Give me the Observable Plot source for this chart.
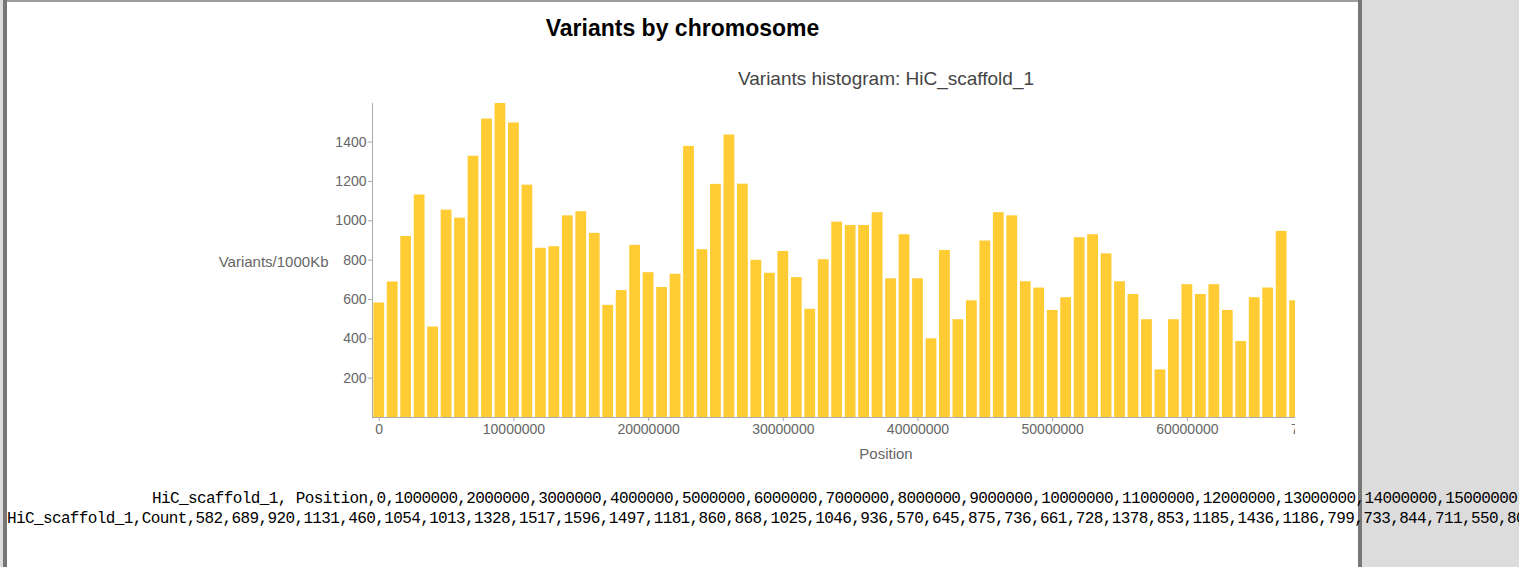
<!DOCTYPE html>
<html>
<head>
<meta charset="utf-8">
<script src="https://cdn.jsdelivr.net/npm/d3@7"></script>
<script src="https://cdn.jsdelivr.net/npm/@observablehq/plot@0.6"></script>
<style>
  html, body { margin: 0; padding: 0; width: 1519px; height: 567px; overflow: hidden; background: #dcdcdc; }
  #page { position: absolute; left: 3px; top: 0; width: 1351px; height: 600px; background: white;
          border-left: 4px solid #777; border-right: 4px solid #777; }
  #topline { position: absolute; left: 0; top: 0; width: 1351px; height: 2px; background: #9c9c9c; }
  #title { position: absolute; left: 0; top: 13px; width: 1351px; text-align: center;
           font: bold 23px "Liberation Sans", Arial, sans-serif; line-height: 30px; color: #000; }
  #chartwrap { position: absolute; left: 0; top: 60px; width: 1288px; height: 410px; overflow: hidden; }
  .dataline { position: absolute; white-space: pre; font-family: "Liberation Mono", monospace;
              font-size: 16px; letter-spacing: -0.62px; line-height: 20px; color: #000; }
</style>
</head>
<body>
<div id="page">
  <div id="topline"></div>
  <div id="title"></div>
  <div id="chartwrap"></div>
  <div id="line1" class="dataline" style="left:145px; top:489px;"></div>
  <div id="line2" class="dataline" style="left:0px; top:509px;"></div>
</div>
<script>
const pageTitle = "Variants by chromosome";
const chartTitle = "Variants histogram: HiC_scaffold_1";
const yLabel = "Variants/1000Kb";
const xLabel = "Position";
const scaffold = "HiC_scaffold_1";

const positions = [0, 1000000, 2000000, 3000000, 4000000, 5000000, 6000000, 7000000, 8000000, 9000000,
  10000000, 11000000, 12000000, 13000000, 14000000, 15000000, 16000000, 17000000, 18000000, 19000000,
  20000000, 21000000, 22000000, 23000000, 24000000, 25000000, 26000000, 27000000, 28000000, 29000000,
  30000000, 31000000, 32000000, 33000000, 34000000, 35000000, 36000000, 37000000, 38000000, 39000000,
  40000000, 41000000, 42000000, 43000000, 44000000, 45000000, 46000000, 47000000, 48000000, 49000000,
  50000000, 51000000, 52000000, 53000000, 54000000, 55000000, 56000000, 57000000, 58000000, 59000000,
  60000000, 61000000, 62000000, 63000000, 64000000, 65000000, 66000000, 67000000, 68000000];

const counts = [582, 689, 920, 1131, 460, 1054, 1013, 1328, 1517, 1596,
  1497, 1181, 860, 868, 1025, 1046, 936, 570, 645, 875,
  736, 661, 728, 1378, 853, 1185, 1436, 1186, 799, 733,
  844, 711, 550, 802, 993, 976, 976, 1041, 705, 929,
  705, 400, 849, 497, 593, 897, 1041, 1025, 690, 658,
  544, 609, 914, 929, 832, 690, 625, 497, 242, 497,
  675, 625, 675, 544, 386, 609, 658, 946, 593];

const yTicks = [200, 400, 600, 800, 1000, 1200, 1400];
const xTicks = [0, 10000000, 20000000, 30000000, 40000000, 50000000, 60000000, 70000000];

const data = positions.map((p, i) => ({position: p, count: counts[i]}));
const halfBar = 400000;

document.getElementById("title").textContent = pageTitle;
document.getElementById("line1").textContent = scaffold + ", " + xLabel + "," + positions.join(",");
document.getElementById("line2").textContent = scaffold + ",Count," + counts.join(",");

const chart = Plot.plot({
  width: 1432,
  height: 410,
  marginLeft: 365,
  marginRight: 40,
  marginTop: 43,
  marginBottom: 53,
  x: {domain: [-500000, 75750000]},
  y: {domain: [0, 1596]},
  style: {fontFamily: '"Liberation Sans", Arial, sans-serif', fontSize: "14px", color: "#666",
          background: "white", maxWidth: "none"},
  marks: [
    Plot.rect(data, {x1: d => d.position - halfBar, x2: d => d.position + halfBar, y1: 0, y2: "count", fill: "#ffcc33"}),
    Plot.ruleX([-500000], {stroke: "#aaa"}),
    Plot.ruleY([0], {stroke: "#aaa"}),
    Plot.axisY({ticks: yTicks, tickSize: 4, tickPadding: 2, label: null, tickFormat: d => String(d), stroke: "#aaa", fill: "#666", fontSize: 14}),
    Plot.axisX({ticks: xTicks, tickSize: 4, tickPadding: 3, label: null, tickFormat: d => String(d), stroke: "#aaa", fill: "#666", fontSize: 14}),
    Plot.text([yLabel], {frameAnchor: "left", text: d => d, dx: -44, dy: 2, textAnchor: "end", fill: "#666", fontSize: 15}),
    Plot.text([xLabel], {frameAnchor: "bottom", text: d => d, dy: 41, fill: "#666", fontSize: 15}),
    Plot.text([chartTitle], {frameAnchor: "top", text: d => d, dy: -32, fill: "#444", fontSize: 19})
  ]
});
document.getElementById("chartwrap").appendChild(chart);
</script>
</body>
</html>
